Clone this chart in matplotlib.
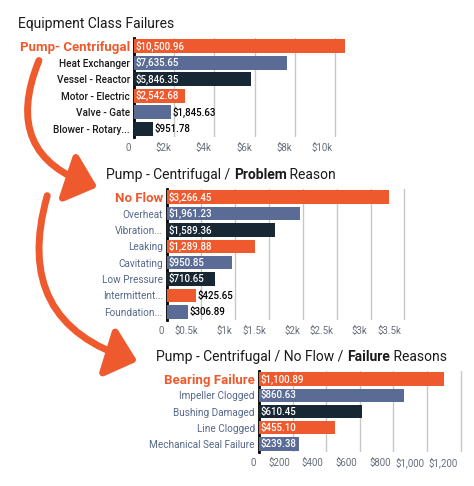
import matplotlib
matplotlib.use("Agg")
import matplotlib.pyplot as plt
from matplotlib.patches import FancyArrowPatch

plt.rcParams['font.family'] = ['Roboto', 'DejaVu Sans']

ORANGE, SLATE, DARK = '#EE5A2E', '#5A6C96', '#172733'

eq_cats = ['Pump- Centrifugal', 'Heat Exchanger', 'Vessel - Reactor', 'Motor - Electric', 'Valve - Gate', 'Blower - Rotary...']
eq_vals = [10500.96, 7635.65, 5846.35, 2542.68, 1845.63, 951.78]
eq_ticks = [0, 2000, 4000, 6000, 8000, 10000]
eq_ticklabels = ['0', '$2k', '$4k', '$6k', '$8k', '$10k']

pr_cats = ['No Flow', 'Overheat', 'Vibration...', 'Leaking', 'Cavitating', 'Low Pressure', 'Intermittent...', 'Foundation...']
pr_vals = [3266.45, 1961.23, 1589.36, 1289.88, 950.85, 710.65, 425.65, 306.89]
pr_ticks = [0, 500, 1000, 1500, 2000, 2500, 3000, 3500]
pr_ticklabels = ['0', '$0.5k', '$1k', '$1.5k', '$2k', '$2.5k', '$3k', '$3.5k']

fr_cats = ['Bearing Failure', 'Impeller Clogged', 'Bushing Damaged', 'Line Clogged', 'Mechanical Seal Failure']
fr_vals = [1100.89, 860.63, 610.45, 455.10, 239.38]
fr_ticks = [0, 200, 400, 600, 800, 1000, 1200]
fr_ticklabels = ['0', '$200', '$400', '$600', '$800', '$1,000', '$1,200']

W, H = 474, 486
fig = plt.figure(figsize=(W/100, H/100), dpi=100)
fig.patch.set_facecolor('white')

def px_axes(l, t, r, b):
    return fig.add_axes([l/W, 1-b/H, (r-l)/W, (b-t)/H])

def panel(l, t, r, b, xmax, cats, vals, ticks, tlabels, title_parts, title_y, title_x, catcolor, catweight):
    ax = px_axes(l, t, r, b)
    n = len(cats)
    cols = [[ORANGE, SLATE, DARK][i % 3] for i in range(n)]
    y = list(range(n))
    ax.barh(y, vals, height=0.82, color=cols, zorder=3)
    ax.set_ylim(n - 0.5, -0.5)
    ax.set_xlim(0, xmax)
    ax.set_yticks(y)
    ax.set_yticklabels(cats)
    for i, lab in enumerate(ax.get_yticklabels()):
        if i == 0:
            lab.set_color(ORANGE); lab.set_fontweight('bold'); lab.set_fontsize(9.5)
        else:
            lab.set_color(catcolor); lab.set_fontsize(7.2); lab.set_fontweight(catweight)
    ax.tick_params(axis='y', length=0, pad=3)
    ax.set_xticks(ticks)
    ax.set_xticklabels([])
    ax.tick_params(axis='x', length=0)
    for tk, tl in zip(ticks, tlabels):
        ax.annotate(tl, (tk, 0), xycoords=('data', 'axes fraction'), xytext=(-2, -4),
                    textcoords='offset points', ha='right', va='top', fontsize=7, color='#666e7a')
    ax.grid(axis='x', color='#c8c8c8', lw=1, zorder=0)
    for s in ['top', 'right', 'bottom']:
        ax.spines[s].set_visible(False)
    ax.spines['left'].set_linewidth(2)
    ax.spines['left'].set_color('black')
    pxper = (r - l) / xmax
    for i, v in enumerate(vals):
        txt = '${:,.2f}'.format(v)
        if v * pxper >= 39:
            ax.text(xmax * 0.006, i, txt, va='center', ha='left', color='white', fontsize=7,
                    fontweight='medium', zorder=4)
        else:
            ax.text(v + xmax * 0.006, i, txt, va='center', ha='left', color='black', fontsize=7,
                    fontweight='medium', zorder=4)
    xpos = title_x
    for txt, bold in title_parts:
        t_ = fig.text(xpos / W, 1 - title_y / H, txt, fontsize=10, fontweight='bold' if bold else 'normal',
                      color='#1a1a1a', va='center', ha='left')
        fig.canvas.draw()
        bb = t_.get_window_extent()
        xpos += bb.width
    return ax

panel(134, 38, 355, 137, 11000, eq_cats, eq_vals, eq_ticks, eq_ticklabels,
      [('Equipment Class Failures', False)], 24, 18, '#1a1a1a', 'medium')
panel(167, 189, 418, 320, 3700, pr_cats, pr_vals, pr_ticks, pr_ticklabels,
      [('Pump - Centrifugal / ', False), ('Problem', True), (' Reason', False)], 175, 106, '#56688a', 'normal')
panel(259, 371, 469, 452, 1250, fr_cats, fr_vals, fr_ticks, fr_ticklabels,
      [('Pump - Centrifugal / No Flow / ', False), ('Failure', True), (' Reasons', False)], 357, 156, '#56688a', 'normal')

def arrow(p0, p1, rad):
    a = FancyArrowPatch((p0[0]/W, 1-p0[1]/H), (p1[0]/W, 1-p1[1]/H), transform=fig.transFigure,
                        connectionstyle=f'arc3,rad={rad}', arrowstyle='-|>,head_length=8,head_width=7',
                        color=ORANGE, lw=5, mutation_scale=2.2)
    fig.patches.append(a)

arrow((40, 58), (100, 188), 0.55)
arrow((48, 193), (140, 362), 0.5)

fig.savefig('out.png', dpi=100, facecolor='white')
